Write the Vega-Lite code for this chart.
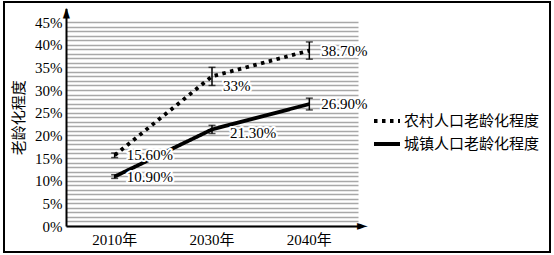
{
  "$schema": "https://vega.github.io/schema/vega-lite/v6.json",
  "width": 546,
  "height": 250,
  "autosize": {"type": "none"},
  "padding": {"left": 4, "top": 2, "right": 4, "bottom": 3},
  "background": "white",
  "config": {
    "view": {"stroke": "black", "strokeWidth": 2},
    "font": "Liberation Serif"
  },
  "data": {
    "values": [
      {"year": "2010年", "series": "农村人口老龄化程度", "value": 15.6, "lo": 15.1, "hi": 16.1, "label": "15.60%"},
      {"year": "2030年", "series": "农村人口老龄化程度", "value": 33, "lo": 31, "hi": 35, "label": "33%"},
      {"year": "2040年", "series": "农村人口老龄化程度", "value": 38.7, "lo": 36.8, "hi": 40.6, "label": "38.70%"},
      {"year": "2010年", "series": "城镇人口老龄化程度", "value": 10.9, "lo": 10.5, "hi": 11.3, "label": "10.90%"},
      {"year": "2030年", "series": "城镇人口老龄化程度", "value": 21.3, "lo": 20.4, "hi": 22.2, "label": "21.30%"},
      {"year": "2040年", "series": "城镇人口老龄化程度", "value": 26.9, "lo": 25.6, "hi": 28.2, "label": "26.90%"}
    ]
  },
  "encoding": {
    "x": {
      "field": "year",
      "type": "nominal",
      "sort": ["2010年", "2030年", "2040年"],
      "scale": {"type": "band", "range": [62, 354], "paddingInner": 0, "paddingOuter": 0},
      "axis": {
        "orient": "bottom",
        "offset": -26,
        "title": null,
        "ticks": false,
        "domainColor": "black",
        "domainWidth": 2,
        "labelAngle": 0,
        "labelFont": "Liberation Serif, Noto Sans CJK SC",
        "labelFontSize": 15,
        "labelColor": "black",
        "labelPadding": 6,
        "grid": false
      }
    },
    "y": {
      "field": "value",
      "type": "quantitative",
      "scale": {"domain": [0, 48], "range": [224, 6.4], "nice": false, "zero": true},
      "axis": {
        "orient": "left",
        "offset": -62,
        "values": [0,1,2,3,4,5,6,7,8,9,10,11,12,13,14,15,16,17,18,19,20,21,22,23,24,25,26,27,28,29,30,31,32,33,34,35,36,37,38,39,40,41,42,43,44,45],
        "labelExpr": "datum.value % 5 === 0 ? datum.value + '%' : ''",
        "labelOverlap": false,
        "ticks": false,
        "grid": true,
        "gridColor": "#a8a8a8",
        "gridWidth": 1.6,
        "domainColor": "black",
        "domainWidth": 2,
        "labelFont": "Liberation Serif",
        "labelFontSize": 15,
        "labelColor": "black",
        "labelPadding": 4,
        "title": "老龄化程度",
        "titleFont": "Noto Sans CJK SC",
        "titleFontSize": 15,
        "titleFontWeight": "normal",
        "titleColor": "black",
        "titlePadding": 8
      }
    }
  },
  "layer": [
    {
      "mark": {"type": "line", "color": "black", "strokeWidth": 3.8, "strokeCap": "butt"},
      "encoding": {
        "strokeDash": {
          "field": "series",
          "type": "nominal",
          "scale": {"domain": ["农村人口老龄化程度", "城镇人口老龄化程度"], "range": [[3.5, 4.5], [1, 0]]},
          "legend": {
            "title": null,
            "orient": "none",
            "legendX": 368,
            "legendY": 104,
            "padding": 0,
            "symbolType": "stroke",
            "symbolSize": 676,
            "symbolStrokeWidth": 4,
            "symbolStrokeColor": "black",
            "labelFont": "Noto Sans CJK SC",
            "labelFontSize": 15,
            "labelColor": "black",
            "labelOffset": 2,
            "rowPadding": -9
          }
        }
      }
    },
    {
      "mark": {"type": "rule", "color": "black", "strokeWidth": 1.5},
      "encoding": {
        "y": {"field": "lo", "type": "quantitative"},
        "y2": {"field": "hi"}
      }
    },
    {
      "mark": {"type": "tick", "color": "black", "size": 7, "thickness": 1.5, "orient": "horizontal"},
      "encoding": {"y": {"field": "lo", "type": "quantitative"}}
    },
    {
      "mark": {"type": "tick", "color": "black", "size": 7, "thickness": 1.5, "orient": "horizontal"},
      "encoding": {"y": {"field": "hi", "type": "quantitative"}}
    },
    {
      "transform": [{"filter": "datum.year !== '2030年'"}],
      "mark": {"type": "text", "align": "left", "baseline": "middle", "dx": 12, "fontSize": 15, "font": "Liberation Serif", "stroke": "white", "strokeWidth": 4, "strokeJoin": "round", "fill": "white"},
      "encoding": {"text": {"field": "label"}}
    },
    {
      "transform": [{"filter": "datum.year !== '2030年'"}],
      "mark": {"type": "text", "align": "left", "baseline": "middle", "dx": 12, "fontSize": 15, "font": "Liberation Serif", "color": "black"},
      "encoding": {"text": {"field": "label"}}
    },
    {
      "transform": [{"filter": {"and": [{"field": "year", "equal": "2030年"}, {"field": "series", "equal": "农村人口老龄化程度"}]}}],
      "mark": {"type": "text", "align": "left", "baseline": "middle", "dx": 11, "dy": 10, "fontSize": 15, "font": "Liberation Serif", "stroke": "white", "strokeWidth": 4, "strokeJoin": "round", "fill": "white"},
      "encoding": {"text": {"field": "label"}}
    },
    {
      "transform": [{"filter": {"and": [{"field": "year", "equal": "2030年"}, {"field": "series", "equal": "农村人口老龄化程度"}]}}],
      "mark": {"type": "text", "align": "left", "baseline": "middle", "dx": 11, "dy": 10, "fontSize": 15, "font": "Liberation Serif", "color": "black"},
      "encoding": {"text": {"field": "label"}}
    },
    {
      "transform": [{"filter": {"and": [{"field": "year", "equal": "2030年"}, {"field": "series", "equal": "城镇人口老龄化程度"}]}}],
      "mark": {"type": "text", "align": "left", "baseline": "middle", "dx": 18, "dy": 4, "fontSize": 15, "font": "Liberation Serif", "stroke": "white", "strokeWidth": 4, "strokeJoin": "round", "fill": "white"},
      "encoding": {"text": {"field": "label"}}
    },
    {
      "transform": [{"filter": {"and": [{"field": "year", "equal": "2030年"}, {"field": "series", "equal": "城镇人口老龄化程度"}]}}],
      "mark": {"type": "text", "align": "left", "baseline": "middle", "dx": 18, "dy": 4, "fontSize": 15, "font": "Liberation Serif", "color": "black"},
      "encoding": {"text": {"field": "label"}}
    },
    {
      "transform": [{"filter": {"and": [{"field": "year", "equal": "2010年"}, {"field": "series", "equal": "农村人口老龄化程度"}]}}],
      "mark": {"type": "text", "text": "►", "font": "DejaVu Sans", "fontSize": 14, "angle": -90, "baseline": "middle", "align": "left", "dx": -1, "color": "black"},
      "encoding": {
        "x": {"field": "year", "type": "nominal", "bandPosition": 0},
        "y": {"datum": 46, "type": "quantitative"}
      }
    },
    {
      "transform": [{"filter": {"and": [{"field": "year", "equal": "2040年"}, {"field": "series", "equal": "农村人口老龄化程度"}]}}],
      "mark": {"type": "text", "text": "►", "font": "DejaVu Sans", "fontSize": 14, "baseline": "middle", "align": "left", "dx": -1, "color": "black"},
      "encoding": {
        "x": {"field": "year", "type": "nominal", "bandPosition": 1},
        "y": {"datum": 0, "type": "quantitative"}
      }
    }
  ]
}
